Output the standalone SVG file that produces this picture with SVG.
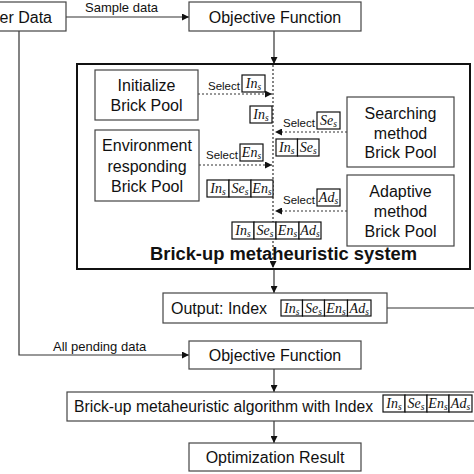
<svg xmlns="http://www.w3.org/2000/svg" width="474" height="474" viewBox="0 0 474 474">
<style>
.box{fill:#fff;stroke:#444;stroke-width:1.2}
.frame{fill:none;stroke:#111;stroke-width:2}
.cell{fill:#fff;stroke:#111;stroke-width:1.2}
.t{font-family:"Liberation Sans",Arial,sans-serif;font-size:16px;fill:#111}
.tc{font-family:"Liberation Sans",Arial,sans-serif;font-size:16px;fill:#111;text-anchor:middle}
.lb{font-family:"Liberation Sans",Arial,sans-serif;font-size:13px;fill:#111}
.sel{font-family:"Liberation Sans",Arial,sans-serif;font-size:11.5px;fill:#111}
.m{font-family:"Liberation Serif","Times New Roman",serif;font-style:italic;font-size:14px;fill:#111;text-anchor:middle}
.sub{font-size:9.5px}
.bold{font-family:"Liberation Sans",Arial,sans-serif;font-size:17.5px;font-weight:bold;fill:#111;text-anchor:middle}
.ln{fill:none;stroke:#333;stroke-width:1.2}
.dot{fill:none;stroke:#333;stroke-width:1.2;stroke-dasharray:2 2}
</style>
<defs>
<marker id="ah" viewBox="0 0 10 10" refX="10" refY="5" markerWidth="7" markerHeight="7" markerUnits="userSpaceOnUse" orient="auto">
<path d="M0,0 L10,5 L0,10 z" fill="#111"/>
</marker>
</defs>

<g id="connectors">
<path class="ln" d="M66,17 H189" marker-end="url(#ah)"/>
<path class="ln" d="M274,31 V64" marker-end="url(#ah)"/>
<path class="dot" d="M273,65 V268" marker-end="url(#ah)"/>
<path class="ln" d="M274,269 V293" marker-end="url(#ah)"/>
<path class="dot" d="M198,94 H272" marker-end="url(#ah)"/>
<path class="dot" d="M199,165 H272" marker-end="url(#ah)"/>
<path class="dot" d="M347,132 H275" marker-end="url(#ah)"/>
<path class="dot" d="M347,211 H275" marker-end="url(#ah)"/>
<path class="ln" d="M387,308 H474"/>
<path class="ln" d="M19,31 V355 H189" marker-end="url(#ah)"/>
<path class="ln" d="M274,369 V392" marker-end="url(#ah)"/>
<path class="ln" d="M274,421 V443" marker-end="url(#ah)"/>
<text class="lb" x="85" y="12">Sample data</text>
<text class="lb" x="53" y="351">All pending data</text>
</g>

<g id="user-data">
<rect class="box" x="-5" y="2" width="71" height="29"/>
<text class="t" x="52" y="22.5" text-anchor="end">er Data</text>
</g>

<g id="objective-1">
<rect class="box" x="189" y="2" width="172" height="29"/>
<text class="tc" x="275" y="22.5">Objective Function</text>
</g>

<g id="system">
<rect class="frame" x="77" y="64" width="393" height="205"/>
<text class="bold" x="283.5" y="260" textLength="267" lengthAdjust="spacingAndGlyphs">Brick-up metaheuristic system</text>
</g>

<g id="initialize">
<rect class="box" x="95" y="70" width="103" height="50"/>
<text class="tc" x="146.5" y="90.5">Initialize</text>
<text class="tc" x="146.5" y="110.5">Brick Pool</text>
</g>

<g id="environment">
<rect class="box" x="95" y="130" width="104" height="71"/>
<text class="tc" x="147" y="150.5">Environment</text>
<text class="tc" x="147" y="171.5">responding</text>
<text class="tc" x="147" y="191.5">Brick Pool</text>
</g>

<g id="searching">
<rect class="box" x="347" y="97" width="107" height="70"/>
<text class="tc" x="400.5" y="118.5">Searching</text>
<text class="tc" x="400.5" y="138.5">method</text>
<text class="tc" x="400.5" y="157.5">Brick Pool</text>
</g>

<g id="adaptive">
<rect class="box" x="347" y="175" width="107" height="71"/>
<text class="tc" x="400.5" y="196.5">Adaptive</text>
<text class="tc" x="400.5" y="216.5">method</text>
<text class="tc" x="400.5" y="236.5">Brick Pool</text>
</g>

<g id="select-in">
<text class="sel" x="208" y="90">Select</text>
<rect class="cell" x="242" y="75" width="23" height="17"/>
<text class="m" x="253.5" y="88">In<tspan class="sub" dy="2">s</tspan></text>
</g>
<g id="idx-in">
<rect class="cell" x="250" y="106" width="22" height="17"/>
<text class="m" x="261" y="119">In<tspan class="sub" dy="2">s</tspan></text>
</g>

<g id="select-se">
<text class="sel" x="283" y="127">Select</text>
<rect class="cell" x="317" y="112" width="23" height="17"/>
<text class="m" x="328.5" y="125">Se<tspan class="sub" dy="2">s</tspan></text>
</g>
<g id="idx-in-se">
<rect class="cell" x="276" y="139" width="21.5" height="17"/>
<text class="m" x="286.75" y="152">In<tspan class="sub" dy="2">s</tspan></text>
<rect class="cell" x="297.5" y="139" width="21.5" height="17"/>
<text class="m" x="308.25" y="152">Se<tspan class="sub" dy="2">s</tspan></text>
</g>

<g id="select-en">
<text class="sel" x="206" y="159">Select</text>
<rect class="cell" x="240" y="144" width="23" height="17"/>
<text class="m" x="251.5" y="157">En<tspan class="sub" dy="2">s</tspan></text>
</g>
<g id="idx-in-se-en">
<rect class="cell" x="207" y="180" width="22" height="17"/>
<text class="m" x="218" y="193">In<tspan class="sub" dy="2">s</tspan></text>
<rect class="cell" x="229" y="180" width="22" height="17"/>
<text class="m" x="240" y="193">Se<tspan class="sub" dy="2">s</tspan></text>
<rect class="cell" x="251" y="180" width="22" height="17"/>
<text class="m" x="262" y="193">En<tspan class="sub" dy="2">s</tspan></text>
</g>

<g id="select-ad">
<text class="sel" x="283" y="204">Select</text>
<rect class="cell" x="317" y="189" width="23" height="17"/>
<text class="m" x="328.5" y="202">Ad<tspan class="sub" dy="2">s</tspan></text>
</g>
<g id="idx-all">
<rect class="cell" x="232" y="222" width="22" height="17"/>
<text class="m" x="243" y="235">In<tspan class="sub" dy="2">s</tspan></text>
<rect class="cell" x="254" y="222" width="22" height="17"/>
<text class="m" x="265" y="235">Se<tspan class="sub" dy="2">s</tspan></text>
<rect class="cell" x="276" y="222" width="23" height="17"/>
<text class="m" x="287.5" y="235">En<tspan class="sub" dy="2">s</tspan></text>
<rect class="cell" x="299" y="222" width="22" height="17"/>
<text class="m" x="310" y="235">Ad<tspan class="sub" dy="2">s</tspan></text>
</g>

<g id="output">
<rect class="box" x="163" y="293" width="224" height="30"/>
<text class="t" x="171" y="313.5">Output: Index</text>
<rect class="cell" x="281" y="300" width="21.5" height="16"/>
<text class="m" x="291.75" y="312.5">In<tspan class="sub" dy="2">s</tspan></text>
<rect class="cell" x="302.5" y="300" width="22" height="16"/>
<text class="m" x="313.5" y="312.5">Se<tspan class="sub" dy="2">s</tspan></text>
<rect class="cell" x="324.5" y="300" width="23" height="16"/>
<text class="m" x="336" y="312.5">En<tspan class="sub" dy="2">s</tspan></text>
<rect class="cell" x="347.5" y="300" width="23.5" height="16"/>
<text class="m" x="359.25" y="312.5">Ad<tspan class="sub" dy="2">s</tspan></text>
</g>

<g id="objective-2">
<rect class="box" x="189" y="341" width="172" height="28"/>
<text class="tc" x="275" y="360.5">Objective Function</text>
</g>

<g id="algorithm">
<rect class="box" x="67" y="392" width="412" height="29"/>
<text class="t" x="74" y="412" textLength="299" lengthAdjust="spacingAndGlyphs">Brick-up metaheuristic algorithm with Index</text>
<rect class="cell" x="383" y="395" width="22" height="17"/>
<text class="m" x="394" y="408">In<tspan class="sub" dy="2">s</tspan></text>
<rect class="cell" x="405" y="395" width="22" height="17"/>
<text class="m" x="416" y="408">Se<tspan class="sub" dy="2">s</tspan></text>
<rect class="cell" x="427" y="395" width="22" height="17"/>
<text class="m" x="438" y="408">En<tspan class="sub" dy="2">s</tspan></text>
<rect class="cell" x="449" y="395" width="23" height="17"/>
<text class="m" x="460.5" y="408">Ad<tspan class="sub" dy="2">s</tspan></text>
</g>

<g id="result">
<rect class="box" x="189" y="443" width="172" height="28"/>
<text class="tc" x="275" y="462.5">Optimization Result</text>
</g>
</svg>
